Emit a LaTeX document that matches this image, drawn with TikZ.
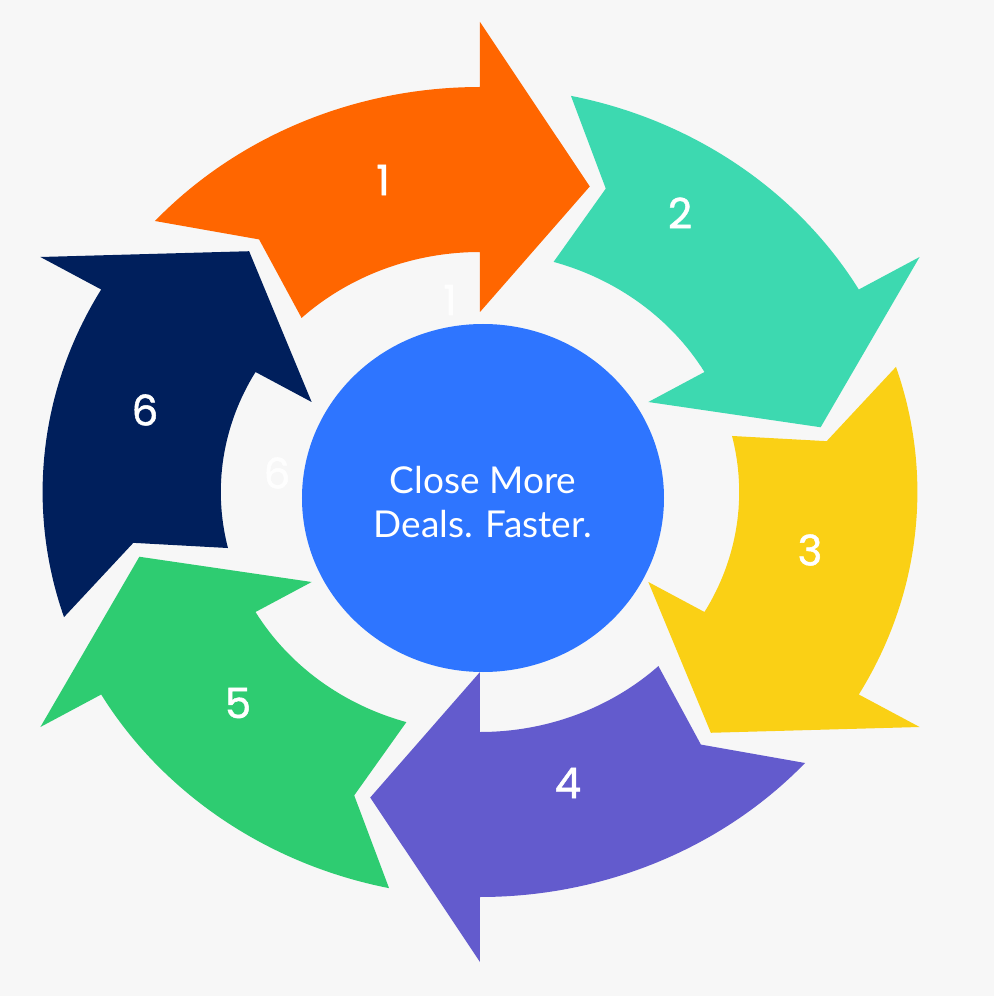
\documentclass[tikz,border=0pt]{standalone}
\usepackage{fontspec}
\newfontfamily\numfont[FakeBold=1.2]{Poppins}
\newfontfamily\lato{Lato}
\definecolor{bg}{HTML}{F7F7F7}
\definecolor{c1}{HTML}{FF6600}
\definecolor{c2}{HTML}{3DD9B0}
\definecolor{c3}{HTML}{FAD015}
\definecolor{c4}{HTML}{635BCD}
\definecolor{c5}{HTML}{2ECC71}
\definecolor{c6}{HTML}{001F5C}
\definecolor{cc}{HTML}{2E75FF}
\tikzset{numlbl/.style={text=white,font=\numfont\fontsize{42}{42}\selectfont}}
\begin{document}
\begin{tikzpicture}
\fill[bg] (-480pt,-504pt) rectangle (514pt,492pt);
\useasboundingbox (-480pt,-504pt) rectangle (514pt,492pt);
\begin{scope}[xscale=1.08]
\foreach \k/\c in {1/c1,2/c2,3/c3,4/c4,5/c5,6/c6}{
  \begin{scope}[rotate={-60*(\k-1)}]
  \fill[\c] (138:405pt) arc[start angle=138,end angle=90,radius=405pt]
    -- (90:470pt) -- (71.6:322pt) -- (90:180pt) -- (90:240pt)
    arc[start angle=90,end angle=133.5,radius=240pt] -- (129:325pt) -- cycle;
  \end{scope}
}
\end{scope}
\node[numlbl] (n1) at (-97pt,312pt) {1};
\node[numlbl] (n2) at (200pt,279pt) {2};
\node[numlbl] (n3) at (330pt,-58pt) {3};
\node[numlbl] (n4) at (88pt,-291pt) {4};
\node[numlbl] (n5) at (-242pt,-211pt) {5};
\node[numlbl] (n6) at (-335pt,82pt) {6};
\fill[cc] (3pt,-6pt) ellipse[x radius=181pt,y radius=174pt];
\node[text=white,align=center,font=\lato\fontsize{37}{44}\selectfont] (ctr) at (3pt,-10pt) {Close More\\Deals. Faster.};
\node[numlbl,opacity=0.9] (s1) at (-30pt,192pt) {1};
\node[numlbl,opacity=0.9] (s6) at (-203pt,19pt) {6};
\end{tikzpicture}
\end{document}
